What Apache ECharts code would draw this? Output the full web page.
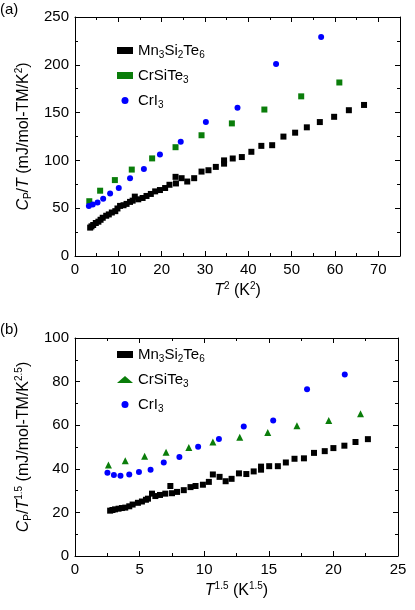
<!DOCTYPE html>
<html><head><meta charset="utf-8">
<script src="https://cdn.jsdelivr.net/npm/echarts@6/dist/echarts.min.js"></script>
<style>html,body{margin:0;padding:0;background:#fff}#c{width:415px;height:610px}</style>
</head><body><div id="c"></div>
<script>
// panel (a): Cp/T vs T^2
const mnA = [[3.5,29.7],[3.8,31],[4.2,32.4],[4.8,34.5],[5.4,35.9],[5.9,37.9],[6.4,40],[7.2,42.1],[7.8,43.5],[8.5,45.5],[9.3,46.9],[9.8,49.7],[10.4,52.4],[11.2,53.1],[11.9,54.5],[12.7,56.6],[13.8,62.1],[13.3,57.9],[14.6,59.3],[15.6,60.7],[16.5,62.8],[17.5,64.9],[18.5,67.6],[19.6,69],[20.8,71.1],[21.8,74.5],[23.3,75.9],[23.2,82.8],[24.6,81.4],[25.9,77.9],[27.5,81.4],[29.2,88.3],[30.8,89.7],[32.5,93.2],[34.4,96.6],[34.4,100],[36.4,102],[38.5,103.5],[40.7,109],[43,115.2],[45.5,115.9],[48.1,124.9],[50.8,129],[53.5,134.6],[56.5,140.1],[59.8,145.6],[63.2,152.5],[66.7,158]];
const crsiA = [[3.3,57.3],[5.8,68.3],[9.2,79.4],[13.1,90.4],[17.8,102.1],[23.2,113.8],[29.2,126.3],[36.2,138.7],[43.7,153.2],[52.2,167],[61,181.5]];
const criA = [[3.2,52.4],[4.1,53.8],[5.2,55.9],[6.5,60],[8.1,65.5],[10.1,71.1],[12.7,81.4],[15.9,91.1],[19.6,106.3],[24.4,119.4],[30.2,140.1],[37.5,155.2],[46.4,200.8],[56.8,229]];
// panel (b): Cp/T^1.5 vs T^1.5
const mnB = [[2.72,20.8],[2.9,21.1],[3.1,21.4],[3.37,21.7],[3.63,22],[3.89,22.2],[4.2,22.8],[4.46,23.6],[4.87,24.4],[5.18,25],[5.49,25.8],[5.65,26.3],[5.96,28.6],[6.22,27.5],[6.58,28],[6.99,28.6],[7.38,32.1],[7.51,28.8],[7.9,29.4],[8.42,30.2],[8.94,31.6],[9.33,32.1],[9.9,32.7],[10.36,34],[10.67,37.4],[11.19,36.3],[11.66,34.3],[12.12,35.4],[12.69,37.9],[13.26,37.6],[13.83,38.8],[14.4,39.6],[14.4,41],[15.03,41.2],[15.7,41.2],[16.32,42.9],[16.99,44.6],[17.72,44.8],[18.5,47.3],[19.33,48.1],[20,49.5],[20.85,50.6],[21.71,52.3],[22.67,53.6]];
const crsiB = [[2.59,41.8],[3.89,43.7],[5.39,45.7],[7.05,47.6],[8.81,49.8],[10.67,52.3],[12.75,54.5],[14.92,56.7],[17.18,59.7],[19.64,62.2],[22.1,65.2]];
const criB = [[2.51,38.2],[3.01,37.1],[3.52,36.8],[4.2,37.4],[4.95,38.5],[5.85,39.6],[6.87,42.9],[8.08,45.4],[9.53,50.1],[11.14,53.7],[13.06,59.4],[15.34,62.2],[17.96,76.5],[20.88,83.2]];

const FONT = 'Liberation Sans';
const rich = {
  s: {fontSize: 10, verticalAlign: 'bottom', padding: [9,0,0,0], fontFamily: FONT, color: '#000'},
  u: {fontSize: 10, verticalAlign: 'top', padding: [0,0,9,0], fontFamily: FONT, color: '#000'},
  i: {fontStyle: 'italic', fontSize: 16, fontFamily: FONT, color: '#000'},
  n: {fontSize: 16, fontFamily: FONT, color: '#000'},
  l: {fontSize: 15, fontFamily: FONT, color: '#000'}
};
const legendNames = {
  mnA: '{l|Mn}{s|3}{l|Si}{s|2}{l|Te}{s|6}', crsiA: '{l|CrSiTe}{s|3}', criA: '{l|CrI}{s|3}',
  mnB: '{l|Mn}{s|3}{l|Si}{s|2}{l|Te}{s|6}', crsiB: '{l|CrSiTe}{s|3}', criB: '{l|CrI}{s|3}'
};

function xAx(grid, max, interval, name, show, hideMax) {
  return {
    type: 'value', gridIndex: grid, min: 0, max: max, interval: interval,
    position: show ? 'bottom' : 'top',
    name: show ? name : '', nameLocation: 'middle', nameGap: 25, nameTextStyle: {rich: rich},
    axisLine: {show: true, onZero: false, lineStyle: {color: '#000', width: 1}},
    axisTick: {show: true, inside: true, length: 5, lineStyle: {color: '#000'}},
    minorTick: {show: true, splitNumber: 2, length: 3, lineStyle: {color: '#000'}},
    axisLabel: {show: show, showMaxLabel: !hideMax, fontFamily: FONT, fontSize: 15, color: '#000', margin: 6},
    splitLine: {show: false}
  };
}
function yAx(grid, max, interval, name, show) {
  return {
    type: 'value', gridIndex: grid, min: 0, max: max, interval: interval,
    position: show ? 'left' : 'right',
    name: show ? name : '', nameLocation: 'middle', nameGap: 40, nameTextStyle: {rich: rich},
    axisLine: {show: true, onZero: false, lineStyle: {color: '#000', width: 1}},
    axisTick: {show: true, inside: true, length: 5, lineStyle: {color: '#000'}},
    minorTick: {show: true, splitNumber: 2, length: 3, lineStyle: {color: '#000'}},
    axisLabel: {show: show, fontFamily: FONT, fontSize: 15, color: '#000', margin: 6},
    splitLine: {show: false}
  };
}
function sc(id, data, x, y, sym, color, size) {
  return {name: id, type: 'scatter', xAxisIndex: x, yAxisIndex: y, data: data,
    symbol: sym, symbolSize: size, itemStyle: {color: color, opacity: 1}};
}

const chart = echarts.init(document.getElementById('c'), null, {renderer: 'canvas'});
chart.setOption({
  animation: false,
  grid: [
    {left: 75, top: 17, width: 325, height: 239},
    {left: 75, top: 338, width: 323, height: 218}
  ],
  xAxis: [
    xAx(0, 75, 10, '{i|T}{u|2}{n| (K}{u|2}{n|)}', true, true),
    xAx(0, 75, 10, '', false),
    xAx(1, 25, 5, '{i|T}{u|1.5}{n| (K}{u|1.5}{n|)}', true),
    xAx(1, 25, 5, '', false)
  ],
  yAxis: [
    yAx(0, 250, 50, '{i|C}{s|P}{n|/}{i|T}{n| (mJ/mol-TM/K}{u|2}{n|)}', true),
    yAx(0, 250, 50, '', false),
    yAx(1, 100, 20, '{i|C}{s|P}{n|/}{i|T}{u|1.5}{n| (mJ/mol-TM/K}{u|2.5}{n|)}', true),
    yAx(1, 100, 20, '', false)
  ],
  legend: [
    {data: ['mnA','crsiA','criA'], orient: 'vertical', left: 112, top: 38, itemGap: 8,
      itemWidth: 16, itemHeight: 7, formatter: n => legendNames[n], textStyle: {rich: rich}},
    {data: ['mnB','crsiB','criB'], orient: 'vertical', left: 112, top: 342, itemGap: 8,
      itemWidth: 16, itemHeight: 7, formatter: n => legendNames[n], textStyle: {rich: rich}}
  ],
  graphic: [
    {type: 'text', left: 0, top: 2, style: {text: '(a)', font: '15px "Liberation Sans"', fill: '#000'}},
    {type: 'text', left: 0, top: 322, style: {text: '(b)', font: '15px "Liberation Sans"', fill: '#000'}}
  ],
  series: [
    sc('mnA', mnA, 0, 0, 'rect', '#000', 6),
    sc('crsiA', crsiA, 0, 0, 'rect', '#0a7d0a', 6),
    sc('criA', criA, 0, 0, 'circle', '#0000ff', 6),
    sc('mnB', mnB, 2, 2, 'rect', '#000', 6),
    sc('crsiB', crsiB, 2, 2, 'triangle', '#0a7d0a', 7),
    sc('criB', criB, 2, 2, 'circle', '#0000ff', 6)
  ]
});
</script></body></html>
